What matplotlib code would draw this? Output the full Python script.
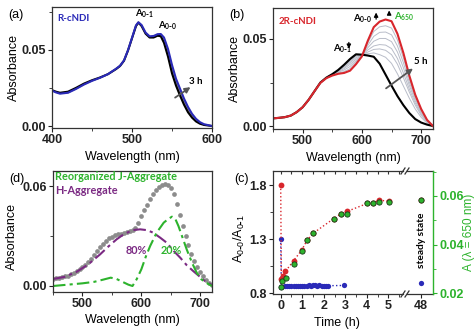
import matplotlib
matplotlib.use('Agg')
import matplotlib.pyplot as plt
from matplotlib.ticker import MultipleLocator, FixedLocator, FormatStrFormatter
from matplotlib.lines import Line2D

plt.rcParams['font.family'] = ['Liberation Sans', 'DejaVu Sans']
plt.rcParams['font.weight'] = 'bold'
plt.rcParams['font.size'] = 9
plt.rcParams['mathtext.default'] = 'regular'
plt.rcParams['axes.linewidth'] = 0.9
plt.rcParams['axes.edgecolor'] = '#333333'
plt.rcParams['xtick.major.size'] = 3
plt.rcParams['ytick.major.size'] = 3
plt.rcParams['xtick.minor.size'] = 2
plt.rcParams['ytick.minor.size'] = 2
plt.rcParams['xtick.major.pad'] = 1.5
plt.rcParams['ytick.major.pad'] = 1.5

# ---------------- data ----------------
# (a) R-cNDI
wl_a = [400, 405, 410, 420, 430, 440, 450, 460, 470, 480, 485, 490, 495, 500, 505, 508,
        512, 517, 522, 527, 532, 536, 540, 545, 550, 555, 560, 565, 570, 575, 580, 585, 590, 600]
a_start = [0.0235, 0.0225, 0.0218, 0.0225, 0.0250, 0.0278, 0.0300, 0.0318, 0.0340, 0.0373,
           0.0393, 0.0428, 0.0495, 0.0575, 0.0655, 0.0678, 0.0655, 0.0605, 0.0580, 0.0580,
           0.0592, 0.0588, 0.0545, 0.0455, 0.0345, 0.0265, 0.0200, 0.0140, 0.0090, 0.0055,
           0.0030, 0.0015, 0.0007, 0.0]
a_3h = [0.0232, 0.0220, 0.0212, 0.0218, 0.0243, 0.0272, 0.0296, 0.0316, 0.0340, 0.0375,
        0.0395, 0.0430, 0.0497, 0.0578, 0.0660, 0.0680, 0.0662, 0.0612, 0.0588, 0.0590,
        0.0602, 0.0603, 0.0580, 0.0505, 0.0400, 0.0310, 0.0245, 0.0180, 0.0125, 0.0080,
        0.0047, 0.0025, 0.0012, 0.0]

# (b) 2R-cNDI
wl_b = [450, 460, 470, 480, 490, 500, 510, 520, 530, 540, 550, 560, 570, 580, 590, 600,
        610, 620, 630, 640, 650, 660, 670, 680, 690, 700, 710, 720]
b_start = [0.0044, 0.0047, 0.0051, 0.0060, 0.0080, 0.0108, 0.0150, 0.0200, 0.0250, 0.0278,
           0.0298, 0.0322, 0.0352, 0.0385, 0.0412, 0.0410, 0.0405, 0.0398, 0.0358, 0.0295,
           0.0232, 0.0172, 0.0120, 0.0075, 0.0040, 0.0020, 0.0008, 0.0]
b_5h = [0.0044, 0.0047, 0.0051, 0.0060, 0.0080, 0.0108, 0.0150, 0.0200, 0.0248, 0.0275,
        0.0290, 0.0300, 0.0305, 0.0318, 0.0355, 0.0400, 0.0490, 0.0568, 0.0600, 0.0612,
        0.0602, 0.0530, 0.0420, 0.0290, 0.0180, 0.0098, 0.0035, 0.0]
wl_bi = [540, 550, 560, 570, 580, 590, 600, 610, 620, 630, 640, 650, 660, 670, 680, 690, 700, 710, 720]
b_mid1 = [0.0276, 0.0292, 0.0304, 0.0313, 0.0330, 0.0365, 0.0405, 0.0478, 0.0543, 0.0570,
          0.0576, 0.0563, 0.0495, 0.0392, 0.0272, 0.0168, 0.0092, 0.0032, 0]
b_mid2 = [0.0276, 0.0293, 0.0308, 0.0322, 0.0342, 0.0374, 0.0406, 0.0464, 0.0515, 0.0538,
          0.0540, 0.0524, 0.0460, 0.0364, 0.0253, 0.0157, 0.0085, 0.0030, 0]
b_mid3 = [0.0277, 0.0294, 0.0311, 0.0330, 0.0354, 0.0383, 0.0407, 0.0450, 0.0487, 0.0503,
          0.0503, 0.0485, 0.0425, 0.0335, 0.0234, 0.0145, 0.0078, 0.0027, 0]
b_mid4 = [0.0277, 0.0295, 0.0314, 0.0337, 0.0364, 0.0392, 0.0408, 0.0437, 0.0460, 0.0468,
          0.0465, 0.0445, 0.0388, 0.0305, 0.0213, 0.0132, 0.0070, 0.0024, 0]
b_mid5 = [0.0277, 0.0296, 0.0317, 0.0343, 0.0372, 0.0400, 0.0409, 0.0425, 0.0440, 0.0443,
          0.0435, 0.0410, 0.0355, 0.0278, 0.0195, 0.0120, 0.0062, 0.0021, 0]
b_mid6 = [0.0278, 0.0297, 0.0319, 0.0348, 0.0379, 0.0406, 0.0410, 0.0415, 0.0420, 0.0410,
          0.0395, 0.0360, 0.0300, 0.0230, 0.0160, 0.0098, 0.0050, 0.0016, 0]
b_mids = [b_mid1, b_mid2, b_mid3, b_mid4, b_mid5, b_mid6]

# (d) deconvolution
wl_d = [450, 455, 460, 465, 470, 475, 480, 485, 490, 495, 500, 505, 510, 515, 520, 525, 530,
        535, 540, 545, 550, 555, 560, 565, 570, 575, 580, 585, 590, 595, 600, 605, 610, 615,
        620, 625, 630, 635, 640, 645, 650, 655, 660, 665, 670, 675, 680, 685, 690, 695, 700,
        705, 710, 715, 720]
d_exp = [0.0044, 0.0047, 0.0050, 0.0054, 0.0058, 0.0063, 0.0070, 0.0078, 0.0088, 0.0100,
         0.0113, 0.0128, 0.0146, 0.0165, 0.0188, 0.0212, 0.0234, 0.0255, 0.0272, 0.0286,
         0.0296, 0.0304, 0.0310, 0.0315, 0.0320, 0.0325, 0.0330, 0.0337, 0.0350, 0.0380,
         0.0418, 0.0455, 0.0488, 0.0522, 0.0552, 0.0576, 0.0594, 0.0605, 0.0610, 0.0606,
         0.0590, 0.0550, 0.0490, 0.0425, 0.0360, 0.0300, 0.0245, 0.0195, 0.0152, 0.0115,
         0.0085, 0.0060, 0.0038, 0.0020, 0.0008]
wl_h = [450, 470, 490, 510, 530, 545, 558, 570, 585, 598, 610, 620, 632, 643, 655, 666, 677,
        688, 698, 708, 720]
d_h = [0.0042, 0.0055, 0.0085, 0.0130, 0.0190, 0.0240, 0.0280, 0.0310, 0.0335, 0.0340,
       0.0335, 0.0320, 0.0290, 0.0260, 0.0210, 0.0170, 0.0125, 0.0090, 0.0060, 0.0030, 0.0005]
wl_j = [450, 475, 500, 520, 535, 548, 558, 568, 578, 585, 592, 600, 608, 615, 626, 638, 645,
        652, 658, 663, 670, 677, 686, 694, 702, 710, 720]
d_j = [0.0, 0.0008, 0.0016, 0.0025, 0.0038, 0.0050, 0.0042, 0.0025, 0.0008, 0.0, 0.0040,
       0.0100, 0.0180, 0.0240, 0.0320, 0.0380, 0.0400, 0.0416, 0.0400, 0.0360, 0.0290,
       0.0220, 0.0140, 0.0080, 0.0040, 0.0020, 0.0]

# (c) kinetics
t_red = [0, 0.03, 0.1, 0.22, 0.6, 0.97, 1.23, 1.52, 2.47, 2.78, 3.07, 4.03, 4.3, 4.55, 5.05]
ratio_red = [1.80, 0.93, 0.96, 1.00, 1.10, 1.195, 1.29, 1.355, 1.49, 1.53, 1.555, 1.63,
             1.635, 1.66, 1.65]
t_green = [0.03, 0.08, 0.25, 0.6, 0.97, 1.23, 1.52, 2.47, 2.78, 3.07, 4.03, 4.3, 4.55, 5.05]
a650_green = [0.0225, 0.0248, 0.0262, 0.0321, 0.0373, 0.0417, 0.0447, 0.0506, 0.0524,
              0.0524, 0.0570, 0.0572, 0.0575, 0.0577]
t_blue = [0, 0.03, 0.2, 0.3, 0.4, 0.5, 0.6, 0.7, 0.8, 0.9, 1.0, 1.1, 1.2, 1.3, 1.4, 1.5,
          1.6, 1.7, 1.8, 1.9, 2.0, 2.1, 2.2, 2.93]
ratio_blue = [1.30, 0.855, 0.868, 0.866, 0.865, 0.866, 0.867, 0.866, 0.868, 0.867, 0.868,
              0.869, 0.868, 0.870, 0.869, 0.870, 0.871, 0.869, 0.870, 0.869, 0.868, 0.869,
              0.868, 0.870]
t_ss = [48]
ratio_red_ss = [1.66]
a650_ss = [0.0585]
ratio_blue_ss = [0.895]
ratio_ticks = [0.8, 1.3, 1.8]
ratio_minor = [1.05, 1.55]

# ---------------- style ----------------
BLUE = '#2a2ab8'
RED = '#d8262c'
GREEN = '#2db32d'
PURPLE = '#7b2a83'
LBL = dict(family=['Lato', 'DejaVu Sans'], weight='bold', fontsize=7)
LBL_D = dict(family=['Lato', 'DejaVu Sans'], weight='bold', fontsize=7.8)

fig = plt.figure(figsize=(4.74, 3.32), dpi=100)
W, H = 474.0, 332.0


def box(l, t, r, b):
    return [l / W, 1 - b / H, (r - l) / W, (b - t) / H]


def style_spec(ax):
    ax.tick_params(which='both', direction='out', labelsize=9, colors='#222222')
    ax.set_xlabel('Wavelength (nm)', fontsize=9)
    ax.set_ylabel('Absorbance', fontsize=9)
    ax.yaxis.set_major_formatter(FormatStrFormatter('%.2f'))


# ---------------- (a) ----------------
ax_a = fig.add_axes(box(52, 7, 212, 128))
ax_a.fill_between(wl_a, a_start, a_3h, color='#8a8a8a', lw=0)
ax_a.plot(wl_a, a_start, color='black', lw=1.5)
ax_a.plot(wl_a, a_3h, color=BLUE, lw=1.5)
ax_a.set_xlim(400, 600)
ax_a.set_ylim(-0.0013, 0.078)
ax_a.xaxis.set_major_locator(MultipleLocator(100))
ax_a.xaxis.set_minor_locator(MultipleLocator(50))
ax_a.yaxis.set_major_locator(MultipleLocator(0.05))
ax_a.yaxis.set_minor_locator(MultipleLocator(0.025))
style_spec(ax_a)
ax_a.xaxis.set_label_coords(0.5, -0.19)
ax_a.yaxis.set_label_coords(-0.20, 0.50)
ax_a.text(407, 0.0704, 'R-cNDI', color=BLUE, va='center', ha='left', **LBL)
ax_a.text(504, 0.0735, r'A$_{0\text{-}1}$', color='black', va='center', ha='left', **LBL)
ax_a.text(532, 0.0655, r'A$_{0\text{-}0}$', color='black', va='center', ha='left', **LBL)
ax_a.annotate('', xy=(576, 0.0265), xytext=(551, 0.0176),
              arrowprops=dict(arrowstyle='-|>', color='#555555', lw=1.3, mutation_scale=8))
ax_a.text(571, 0.0292, '3 h', color='black', va='center', ha='left', **LBL)

# ---------------- (b) ----------------
ax_b = fig.add_axes(box(273, 8, 433, 129))
for m in b_mids:
    ax_b.plot(wl_bi, m, color='#b9bdc9', lw=0.7)
ax_b.plot(wl_b, b_start, color='black', lw=1.5)
ax_b.plot(wl_b, b_5h, color=RED, lw=1.5)
ax_b.set_xlim(450, 720)
ax_b.set_ylim(-0.0017, 0.0678)
ax_b.xaxis.set_major_locator(MultipleLocator(100))
ax_b.xaxis.set_minor_locator(MultipleLocator(50))
ax_b.yaxis.set_major_locator(MultipleLocator(0.05))
ax_b.yaxis.set_minor_locator(MultipleLocator(0.025))
style_spec(ax_b)
ax_b.xaxis.set_label_coords(0.5, -0.19)
ax_b.yaxis.set_label_coords(-0.20, 0.50)
ax_b.text(460, 0.0600, '2R-cNDI', color=RED, va='center', ha='left', **LBL)
ax_b.text(552, 0.0446, r'A$_{0\text{-}1}$', color='black', va='center', ha='left', **LBL)
ax_b.annotate('', xy=(578, 0.0428), xytext=(578, 0.0496),
              arrowprops=dict(arrowstyle='-|>', color='black', lw=0.9, mutation_scale=6))
ax_b.text(585, 0.0615, r'A$_{0\text{-}0}$', color='black', va='center', ha='left', **LBL)
ax_b.annotate('', xy=(624, 0.0668), xytext=(624, 0.0598),
              arrowprops=dict(arrowstyle='-|>', color='black', lw=0.9, mutation_scale=6))
ax_b.annotate('', xy=(646, 0.0680), xytext=(646, 0.0626),
              arrowprops=dict(arrowstyle='-|>', color='black', lw=0.9, mutation_scale=6))
ax_b.text(655, 0.0628, r'A$_{650}$', color=GREEN, va='center', ha='left', **LBL)
ax_b.annotate('', xy=(690, 0.0340), xytext=(637, 0.0207),
              arrowprops=dict(arrowstyle='-|>', color='#555555', lw=1.3, mutation_scale=8))
ax_b.text(688, 0.0370, '5 h', color='black', va='center', ha='left', **LBL)

# ---------------- (d) ----------------
ax_d = fig.add_axes(box(53, 171, 212, 292))
ax_d.plot(wl_d, d_exp, 'o', color='#8c8c8c', ms=3.4, mew=0)
ax_d.plot(wl_h, d_h, color=PURPLE, lw=1.5, ls=(0, (6, 2, 1.5, 2)))
ax_d.plot(wl_j, d_j, color=GREEN, lw=1.5, ls=(0, (6, 2, 1.5, 2)))
ax_d.set_xlim(450, 720)
ax_d.set_ylim(-0.0036, 0.069)
ax_d.xaxis.set_major_locator(MultipleLocator(100))
ax_d.xaxis.set_minor_locator(MultipleLocator(50))
ax_d.yaxis.set_major_locator(MultipleLocator(0.06))
ax_d.yaxis.set_minor_locator(MultipleLocator(0.03))
style_spec(ax_d)
ax_d.xaxis.set_label_coords(0.5, -0.18)
ax_d.yaxis.set_label_coords(-0.22, 0.46)
ax_d.text(453, 0.0660, 'Reorganized J-Aggregate', color=GREEN, va='center', ha='left', **LBL_D)
ax_d.text(453, 0.0572, 'H-Aggregate', color=PURPLE, va='center', ha='left', **LBL_D)
ax_d.text(574, 0.0210, '80%', color=PURPLE, va='center', ha='left', **LBL_D)
ax_d.text(632, 0.0210, '20%', color=GREEN, va='center', ha='left', **LBL_D)

# ---------------- (c) ----------------
c_t, c_b = 171, 294
axL = fig.add_axes(box(273, c_t, 403, c_b))
axR = fig.add_axes(box(407, c_t, 433, c_b))
px_h = 21.52
axL.set_xlim(-(280.7 - 273) / px_h, (403 - 280.7) / px_h)
axR.set_xlim(48 - (421 - 407) / px_h, 48 + (433 - 421) / px_h)
for ax in (axL, axR):
    ax.set_ylim(0.791, 1.93)

axL.plot(t_blue, ratio_blue, ':', color=BLUE, lw=1.0, marker='o', ms=3.8, mew=0)
axL.plot(t_red, ratio_red, ':', color=RED, lw=1.0, marker='o', ms=4.2, mew=0)
axR.plot(t_ss, ratio_blue_ss, 'o', color=BLUE, ms=3.8, mew=0)
axR.plot(t_ss, ratio_red_ss, 'o', color=RED, ms=4.2, mew=0)

twL = axL.twinx()
twR = axR.twinx()
for tw in (twL, twR):
    tw.set_ylim(0.0196, 0.0703)
twL.plot(t_green, a650_green, 'o', mfc=GREEN, mec='#1a3a1a', mew=0.6, ms=3.8, ls='none')
twR.plot(t_ss, a650_ss, 'o', mfc=GREEN, mec='#1a3a1a', mew=0.6, ms=3.8, ls='none')

axL.spines['right'].set_visible(False)
axR.spines['left'].set_visible(False)
twL.set_axis_off()
for s in ('left', 'top', 'bottom'):
    twR.spines[s].set_visible(False)
twR.spines['right'].set_color(GREEN)
twR.spines['right'].set_linewidth(1.0)
axR.spines['right'].set_visible(False)

axL.xaxis.set_major_locator(MultipleLocator(1))
axL.xaxis.set_minor_locator(MultipleLocator(0.5))
axL.yaxis.set_major_locator(FixedLocator(ratio_ticks))
axL.yaxis.set_minor_locator(FixedLocator(ratio_minor))
axL.yaxis.set_major_formatter(FormatStrFormatter('%.1f'))
axL.tick_params(which='both', direction='out', labelsize=9, colors='#222222')
axR.set_xticks([48])
axR.set_yticks([])
axR.tick_params(which='both', direction='out', labelsize=9, colors='#222222')
twR.yaxis.set_major_locator(MultipleLocator(0.02))
twR.yaxis.set_minor_locator(MultipleLocator(0.01))
twR.yaxis.set_major_formatter(FormatStrFormatter('%.2f'))
twR.tick_params(which='both', direction='out', labelsize=9, colors=GREEN)
twR.set_ylim(0.0196, 0.0703)

sec = axL.secondary_xaxis('top')
sec.xaxis.set_major_locator(MultipleLocator(0.5))
sec.tick_params(direction='in', length=2, labeltop=False, colors='#333333')
sec.spines['top'].set_visible(False)

axL.set_xlabel('Time (h)', fontsize=9)
axL.xaxis.set_label_coords(0.49, -0.19)
axL.set_ylabel(r'A$_{0\text{-}0}$/A$_{0\text{-}1}$', fontsize=9)
axL.yaxis.set_label_coords(-0.20, 0.45)
twR.set_ylabel(u'A (\u03bb = 650 nm)', fontsize=8.5, color=GREEN)
twR.yaxis.set_label_coords(2.15, 0.50)
axR.text(48, 1.29, 'steady state', rotation=90, color='black', va='center', ha='center',
         family=['Lato', 'DejaVu Sans'], fontsize=7.3)

# break marks
for xp in (403, 407):
    for yp in (c_t, c_b):
        fig.add_artist(Line2D([(xp - 2) / W, (xp + 2) / W], [1 - (yp + 3) / H, 1 - (yp - 3) / H],
                              transform=fig.transFigure, color='#333333', lw=0.9))

# panel labels
for lab, x, y in (('(a)', 8, 15), ('(b)', 229, 15), ('(d)', 9, 179), ('(c)', 234, 179)):
    fig.text(x / W, 1 - y / H, lab, fontsize=9, weight='normal', va='center', ha='left')

fig.savefig('out.png', dpi=100)
